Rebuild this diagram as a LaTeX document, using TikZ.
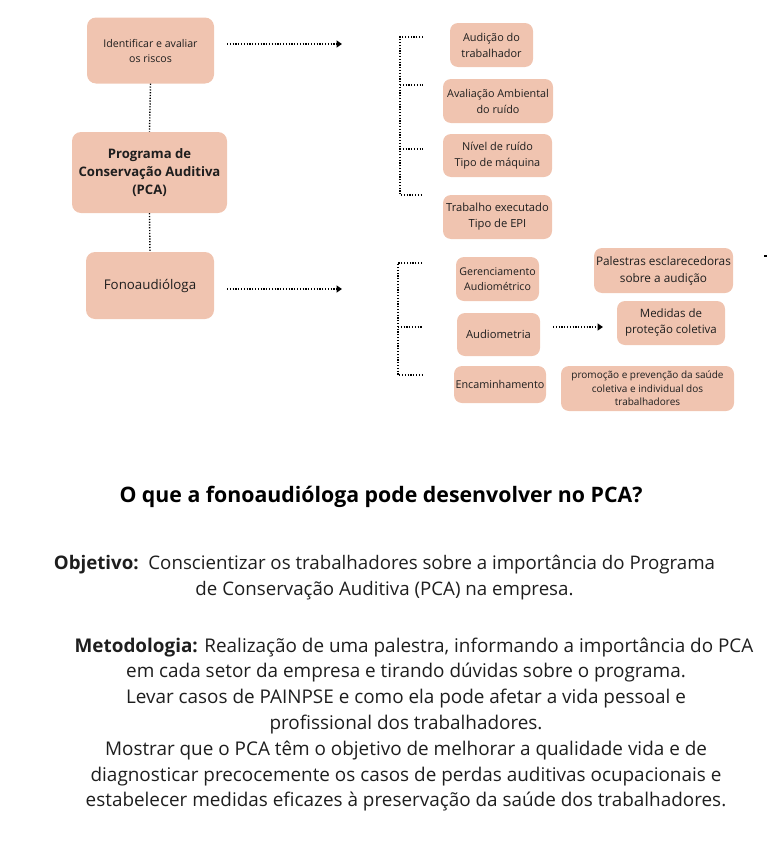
\documentclass[tikz,border=0pt]{standalone}
\usepackage{fontspec}
\setmainfont{Open Sans}
\usetikzlibrary{arrows.meta}
\definecolor{peach}{RGB}{240,196,176}
\definecolor{ink}{RGB}{30,30,30}
\tikzset{
  box/.style={draw=none, fill=peach, rounded corners=9pt, align=center, inner sep=0pt, text=ink},
  dots/.style={draw=black, line width=1.4pt, dash pattern=on 1.2pt off 1.6pt},
  dotarrow/.style={dots, -{Triangle[length=5.5pt,width=7pt]}},
}
\begin{document}
\begin{tikzpicture}[x={(1pt,0)}, y={(0,-1pt)}]
\useasboundingbox (0,0) rectangle (768,862);
% left column
\node[box, minimum width=127pt, minimum height=66pt, font=\fontsize{10.6}{15}\selectfont] (ident) at (150.5,50.5) {Identificar e avaliar\\os riscos};
\node[box, minimum width=155pt, minimum height=81pt, font=\fontsize{13.1}{18}\selectfont\bfseries] (pca) at (149.5,172.5) {Programa de\\Conservação Auditiva\\(PCA)};
\node[box, minimum width=128pt, minimum height=67pt, font=\fontsize{13.3}{16}\selectfont] (fono) at (150,285.5) {Fonoaudióloga};
% right upper
\node[box, rounded corners=8pt, minimum width=83pt, minimum height=44pt, font=\fontsize{10.9}{16}\selectfont] (aud) at (491.5,45) {Audição do\\trabalhador};
\node[box, rounded corners=8pt, minimum width=110pt, minimum height=44pt, font=\fontsize{10.8}{16}\selectfont] (aval) at (498,101) {Avaliação Ambiental\\do ruído};
\node[box, rounded corners=8pt, minimum width=109pt, minimum height=43pt, font=\fontsize{10.9}{16}\selectfont] (nivel) at (497.5,155.5) {Nível de ruído\\Tipo de máquina};
\node[box, rounded corners=8pt, minimum width=109pt, minimum height=44pt, font=\fontsize{11.2}{16}\selectfont] (trab) at (497.5,217) {Trabalho executado\\Tipo de EPI};
% right lower
\node[box, rounded corners=8pt, minimum width=83pt, minimum height=44pt, font=\fontsize{10.6}{14.5}\selectfont] (ger) at (497.5,279) {Gerenciamento\\Audiométrico};
\node[box, rounded corners=8pt, minimum width=83pt, minimum height=43pt, font=\fontsize{11.2}{14}\selectfont] (audio) at (498.5,334.5) {Audiometria};
\node[box, rounded corners=8pt, minimum width=92pt, minimum height=37pt, font=\fontsize{10.8}{14}\selectfont] (enc) at (500,384.5) {Encaminhamento};
\node[box, rounded corners=8pt, minimum width=139pt, minimum height=45pt, font=\fontsize{11.8}{17}\selectfont] (pal) at (663.5,270.5) {Palestras esclarecedoras\\sobre a audição};
\node[box, rounded corners=8pt, minimum width=108pt, minimum height=44pt, font=\fontsize{11.5}{16}\selectfont] (med) at (671,323) {Medidas de\\proteção coletiva};
\node[box, rounded corners=8pt, minimum width=173pt, minimum height=45pt, font=\fontsize{10}{13.5}\selectfont] (prom) at (647.5,388.5) {promoção e prevenção da saúde\\coletiva e individual dos\\trabalhadores};
% vertical links
\draw[dots] (ident.south) -- (pca.north);
\draw[dots] (pca.south) -- (fono.north);
% arrows
\coordinate (a1s) at (227,44);
\coordinate (a1e) at (342,44);
\draw[dotarrow] (a1s) -- (a1e);
\coordinate (a2s) at (227,289);
\coordinate (a2e) at (342,289);
\draw[dotarrow] (a2s) -- (a2e);
\coordinate (a3s) at (553,327);
\coordinate (a3e) at (603,327);
\draw[dotarrow] (a3s) -- (a3e);
% bracket 1
\draw[dots] (423,37) -- (400,37) -- (400,195) -- (423,195);
\draw[dots] (400,85) -- (423,85);
\draw[dots] (400,149) -- (423,149);
% bracket 2
\draw[dots] (422,263) -- (398,263) -- (398,375) -- (422,375);
\draw[dots] (398,327) -- (422,327);
% stray mark at right edge
\draw[line width=1.4pt] (764,256) -- (766.5,256);
% texts
\node[font=\fontsize{21.3}{25}\selectfont\bfseries, text=black] (title) at (381,497) {O que a fonoaudióloga pode desenvolver no PCA?};
\node[font=\fontsize{18.7}{26}\selectfont, align=center, text=ink] (obj) at (384.5,578) {\textbf{Objetivo:}\ \ Conscientizar os trabalhadores sobre a importância do Programa\\de Conservação Auditiva (PCA) na empresa.};
\node[font=\fontsize{18.9}{25.8}\selectfont, align=center, text=ink] (met) at (406,724.5) {\hspace*{16pt}\textbf{Metodologia:} Realização de uma palestra, informando a importância do PCA\\em cada setor da empresa e tirando dúvidas sobre o programa.\\Levar casos de PAINPSE e como ela pode afetar a vida pessoal e\\profissional dos trabalhadores.\\Mostrar que o PCA têm o objetivo de melhorar a qualidade vida e de\\diagnosticar precocemente os casos de perdas auditivas ocupacionais e\\estabelecer medidas eficazes à preservação da saúde dos trabalhadores.};
\end{tikzpicture}
\end{document}
